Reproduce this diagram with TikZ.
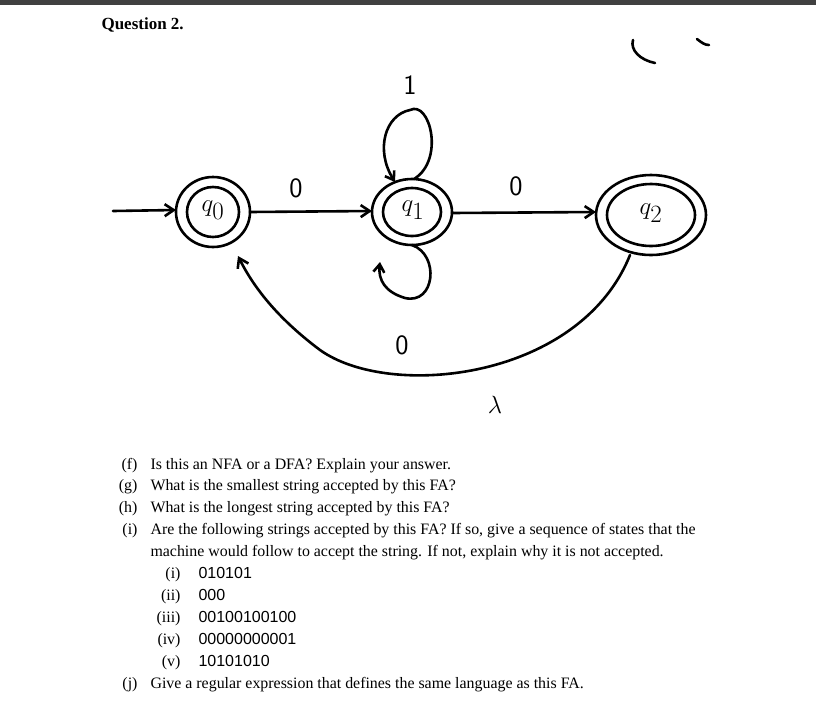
\documentclass[tikz,border=0pt]{standalone}
\usepackage{fontspec}
\setmainfont{Liberation Serif}
\newfontfamily\arial{Liberation Sans}
\usetikzlibrary{arrows.meta}
\begin{document}
\begin{tikzpicture}[x=1pt,y=-1pt,
  ink/.style={line width=2.6pt,line cap=round},
  hand/.style={font=\fontsize{28}{28}\selectfont\sffamily},
  qlab/.style={font=\fontsize{34}{34}\selectfont},
  itm/.style={anchor=base west,font=\fontsize{15.9}{18}\selectfont},
  lab/.style={anchor=base east,font=\fontsize{15.9}{18}\selectfont},
  seq/.style={anchor=base west,font=\arial\fontsize{16}{18}\selectfont}]
\useasboundingbox (0,0) rectangle (816,721);
\fill[white] (0,0) rectangle (816,721);
\fill[black!75] (0,0) rectangle (816,5);
\node[anchor=base west,font=\bfseries\fontsize{17}{19}\selectfont] (title) at (98,29) {Question 2.};
% states
\node (q0) at (213,212) {};
\draw[ink] (213,212) ellipse[x radius=37,y radius=35];
\draw[ink] (213,212) ellipse[x radius=26,y radius=25];
\node[qlab] (t0) at (213,210) {$q_0$};
\node (q1) at (412,212) {};
\draw[ink] (412,212) ellipse[x radius=40,y radius=33];
\draw[ink] (412,212) ellipse[x radius=29,y radius=24];
\node[qlab] (t1) at (413,210) {$q_1$};
\node (q2) at (651,215) {};
\draw[ink] (651,215) ellipse[x radius=55,y radius=40];
\draw[ink] (651,215) ellipse[x radius=44,y radius=31];
\node[qlab] (t2) at (651,213) {$q_2$};
\coordinate (s) at (113,211);
\coordinate (q0e) at (176,210);
\coordinate (q0r) at (250,212);
\coordinate (q1l) at (372,211);
\coordinate (q1r) at (452,213);
\coordinate (q2l) at (596,212);
\draw[ink,-{Straight Barb[length=9pt,width=12pt]}] (s) -- (q0e);
\draw[ink,-{Straight Barb[length=9pt,width=12pt]}] (q0r) -- (q1l);
\draw[ink,-{Straight Barb[length=9pt,width=12pt]}] (q1r) -- (q2l);
\node[hand] (l01) at (296,188) {0};
\node[hand] (l12) at (516,186) {0};
% loops
\coordinate (lt2) at (414,179);
\draw[ink,-{Straight Barb[length=8pt,width=11pt]}] (lt2) .. controls (445,160) and (430,100) .. (410,110) .. controls (385,115) and (375,150) .. (395,182);
\node[hand] (l1) at (410,85) {1};
\draw[ink,-{Straight Barb[length=8pt,width=11pt]}] (412,245) .. controls (440,255) and (435,305) .. (405,298) .. controls (385,292) and (378,280) .. (380,262);
\node[hand] (l0) at (402,345) {0};
% lambda curve
\coordinate (q2b) at (630,255);
\coordinate (q0b) at (238,256);
\draw[ink,-{Straight Barb[length=9pt,width=12pt]}] (q2b) .. controls (580,380) and (390,400) .. (320,350) .. controls (280,320) and (255,290) .. (q0b);
\node[font=\fontsize{30}{30}\selectfont] (lam) at (495,405) {$\lambda$};
% stray marks
\draw[ink] (633,40) .. controls (630,50) and (640,60) .. (655,63);
\draw[ink] (697,39) .. controls (702,43) and (705,45) .. (709,45);
% text
\node[lab] (f) at (141,469) {(f)}; \node[itm] (ft) at (147,469) {Is this an NFA or a DFA? Explain your answer.};
\node[lab] (g) at (141,490) {(g)}; \node[itm] (gt) at (147,490) {What is the smallest string accepted by this FA?};
\node[lab] (h) at (141,512) {(h)}; \node[itm] (ht) at (147,512) {What is the longest string accepted by this FA?};
\node[lab] (i) at (141,534) {(i)}; \node[itm] (it) at (147,534) {Are the following strings accepted by this FA? If so, give a sequence of states that the};
\node[itm] (it2) at (147,556) {machine would follow to accept the string. If not, explain why it is not accepted.};
\node[lab] (i1) at (184,578) {(i)}; \node[seq] (s1) at (195,578) {010101};
\node[lab] (i2) at (184,600) {(ii)}; \node[seq] (s2) at (195,600) {000};
\node[lab] (i3) at (184,622) {(iii)}; \node[seq] (s3) at (195,622) {00100100100};
\node[lab] (i4) at (184,644) {(iv)}; \node[seq] (s4) at (195,644) {00000000001};
\node[lab] (i5) at (184,666) {(v)}; \node[seq] (s5) at (195,666) {10101010};
\node[lab] (j) at (141,688) {(j)}; \node[itm] (jt) at (147,688) {Give a regular expression that defines the same language as this FA.};
\end{tikzpicture}
\end{document}
